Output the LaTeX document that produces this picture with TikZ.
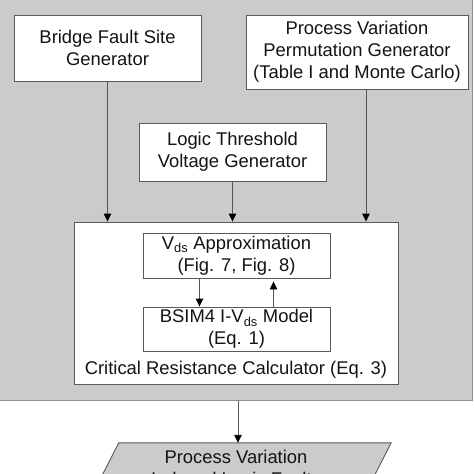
\documentclass[tikz,border=0pt]{standalone}
\usepackage{fontspec}
\setmainfont{Liberation Sans}
\usetikzlibrary{arrows.meta}
\definecolor{bgc}{RGB}{203,203,203}
\definecolor{bord}{RGB}{90,90,90}
\definecolor{arrc}{RGB}{85,85,85}
\definecolor{txt}{RGB}{20,20,20}
\begin{document}
\begin{tikzpicture}[x=1pt,y=1pt,
  every node/.style={font=\fontsize{18.4}{22}\selectfont, text=txt, inner sep=0pt, align=center},
  box/.style={draw=bord, line width=0.9pt, fill=white},
  arr/.style={draw=arrc, line width=0.9pt, -{Triangle[length=8pt,width=7.5pt,color=black]}}]
\useasboundingbox (0,0) rectangle (474,-474);
\clip (0,0) rectangle (474,-474);
\fill[white] (0,0) rectangle (474,-474);
% gray background
\node[fill=bgc, minimum width=477.5pt, minimum height=405.5pt, anchor=north west] (bg) at (-5,5) {};
\draw[draw=black!45, line width=1.2pt] (472.4,5) -- (472.4,-400.6) -- (-5,-400.6);
% top boxes
\node[box, minimum width=187pt, minimum height=66pt] (bf) at (107.5,-48) {Bridge Fault Site\\Generator};
\node[box, minimum width=222pt, minimum height=74pt] (pv) at (357,-52) {Process Variation\\Permutation Generator\\(Table I and Monte Carlo)};
\node[box, minimum width=187pt, minimum height=58pt] (lt) at (232.5,-152) {Logic Threshold\\Voltage Generator};
% calculator
\node[box, minimum width=324pt, minimum height=162pt] (cr) at (236,-303) {};
\node[box, minimum width=187pt, minimum height=45pt] (vds) at (236.5,-255.5) {V\textsubscript{ds} Approximation\\(Fig. 7, Fig. 8)};
\node[box, minimum width=187pt, minimum height=44pt] (bsim) at (236.5,-329) {BSIM4 I-V\textsubscript{ds} Model\\(Eq. 1)};
\node (crl) at (236,-370) {Critical Resistance Calculator (Eq. 3)};
% output
\node[minimum width=272pt, minimum height=66pt] (out) at (238,-476) {};
\draw[draw=bord, line width=0.9pt, fill=bgc] ([xshift=17pt]out.north west) -- ([xshift=17pt]out.north east) -- ([xshift=-17pt]out.south east) -- ([xshift=-17pt]out.south west) -- cycle;
\node[anchor=north] (outt) at (236,-450) {Process Variation\\Induced Logic Faults};
% arrows
\draw[arr] (bf.south) -- (bf.south |- cr.north);
\draw[arr] (lt.south) -- (lt.south |- cr.north);
\draw[arr] ([xshift=9pt]pv.south) -- ([xshift=9pt]pv.south |- cr.north);
\draw[arr] ([xshift=-37pt]vds.south) -- ([xshift=-37pt]vds.south |- bsim.north);
\draw[arr, shorten >=3pt] ([xshift=37pt]bsim.north) -- ([xshift=37pt]bsim.north |- vds.south);
\draw[arr] (bg.south -| out.north) -- (out.north);
\end{tikzpicture}
\end{document}
